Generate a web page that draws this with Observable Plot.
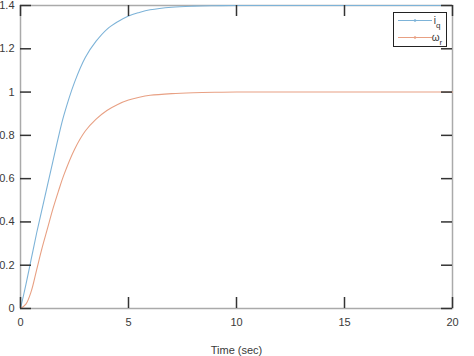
<!DOCTYPE html>
<html>
<head>
<meta charset="utf-8">
<script src="https://cdn.jsdelivr.net/npm/d3@7"></script>
<script src="https://cdn.jsdelivr.net/npm/@observablehq/plot@0.6"></script>
<style>
  html, body { margin: 0; padding: 0; background: #fff; }
  #chart svg { overflow: hidden; display: block; }
</style>
</head>
<body>
<div id="chart"></div>
<script>
// Data
const time = [0, 0.25, 0.5, 0.75, 1, 1.25, 1.5, 1.75, 2, 2.5, 3, 3.5, 4, 4.5, 5, 5.5, 6, 7, 8, 9, 10, 12, 15, 20];
const iq   = [0, 0.11, 0.23, 0.35, 0.46, 0.57, 0.68, 0.79, 0.89, 1.045, 1.16, 1.235, 1.29, 1.325, 1.352, 1.368, 1.38, 1.392, 1.397, 1.399, 1.4, 1.4, 1.4, 1.4];
const wr   = [0, 0.02, 0.08, 0.18, 0.28, 0.37, 0.46, 0.54, 0.615, 0.735, 0.82, 0.875, 0.915, 0.943, 0.963, 0.976, 0.985, 0.993, 0.997, 0.999, 1, 1, 1, 1];
const seriesNames = [["i", "q"], ["\u03c9", "r"]];
const seriesColors = ["#7db3d8", "#e8a083"];
const xTicks = [0, 5, 10, 15, 20];
const yTicks = [0, 0.2, 0.4, 0.6, 0.8, 1, 1.2, 1.4];
const xLabel = "Time (sec)";

const rows = [];
time.forEach((t, i) => {
  rows.push({t, v: iq[i], s: 0});
  rows.push({t, v: wr[i], s: 1});
});

const W = 474, H = 356;
const mL = 20, mR = 22, mT = 5, mB = 48;
const pw = W - mL - mR, ph = H - mT - mB;
const tickLen = 11;
const tickColor = "#333";

const plot = Plot.plot({
  width: W, height: H,
  marginLeft: mL, marginRight: mR, marginTop: mT, marginBottom: mB,
  style: {fontFamily: "Liberation Sans, Arial, sans-serif", fontSize: "11px", color: "#3a3a3a", background: "#fff"},
  x: {domain: [0, 20]},
  y: {domain: [0, 1.4]},
  marks: [
    Plot.frame({stroke: "#aaa", strokeWidth: 1.5}),
    Plot.line(rows.filter(d => d.s === 0), {x: "t", y: "v", stroke: seriesColors[0], strokeWidth: 1.1, curve: "catmull-rom"}),
    Plot.line(rows.filter(d => d.s === 1), {x: "t", y: "v", stroke: seriesColors[1], strokeWidth: 1.1, curve: "catmull-rom"}),
    // inward ticks on all four sides
    Plot.tickX(xTicks, {x: d => d, insetTop: ph - tickLen, stroke: tickColor, strokeWidth: 1.5}),
    Plot.tickX(xTicks, {x: d => d, insetBottom: ph - tickLen, stroke: tickColor, strokeWidth: 1.5}),
    Plot.tickY(yTicks, {y: d => d, insetRight: pw - tickLen, stroke: tickColor, strokeWidth: 1.5}),
    Plot.tickY(yTicks, {y: d => d, insetLeft: pw - tickLen, stroke: tickColor, strokeWidth: 1.5}),
    Plot.axisX(xTicks, {anchor: "bottom", tickSize: 0, tickPadding: 10, tickFormat: d => `${d}`, label: xLabel, labelAnchor: "center", labelArrow: "none"}),
    Plot.axisY(yTicks, {anchor: "left", tickSize: 0, tickPadding: 6, tickFormat: d => `${d}`, label: null})
  ]
});

document.getElementById("chart").appendChild(plot);

// Legend box (pixel placement)
const svg = d3.select(plot);
const lg = svg.append("g").attr("font-family", "Liberation Sans, Arial, sans-serif").attr("font-size", 10).attr("fill", "#333");
lg.append("rect").attr("x", 393.5).attr("y", 12.5).attr("width", 53).attr("height", 34)
  .attr("fill", "#fff").attr("stroke", "#222").attr("stroke-width", 1);
seriesNames.forEach((nm, i) => {
  const y = 20.5 + i * 17;
  lg.append("line").attr("x1", 398).attr("x2", 432).attr("y1", y).attr("y2", y)
    .attr("stroke", seriesColors[i]).attr("stroke-width", 1.1);
  lg.append("circle").attr("cx", 415).attr("cy", y).attr("r", 1.3).attr("fill", seriesColors[i]);
  const t = lg.append("text").attr("x", 437).attr("y", y + 3);
  t.append("tspan").text(nm[0]);
  t.append("tspan").attr("font-size", 8).attr("dy", 4).text(nm[1]);
});
</script>
</body>
</html>
